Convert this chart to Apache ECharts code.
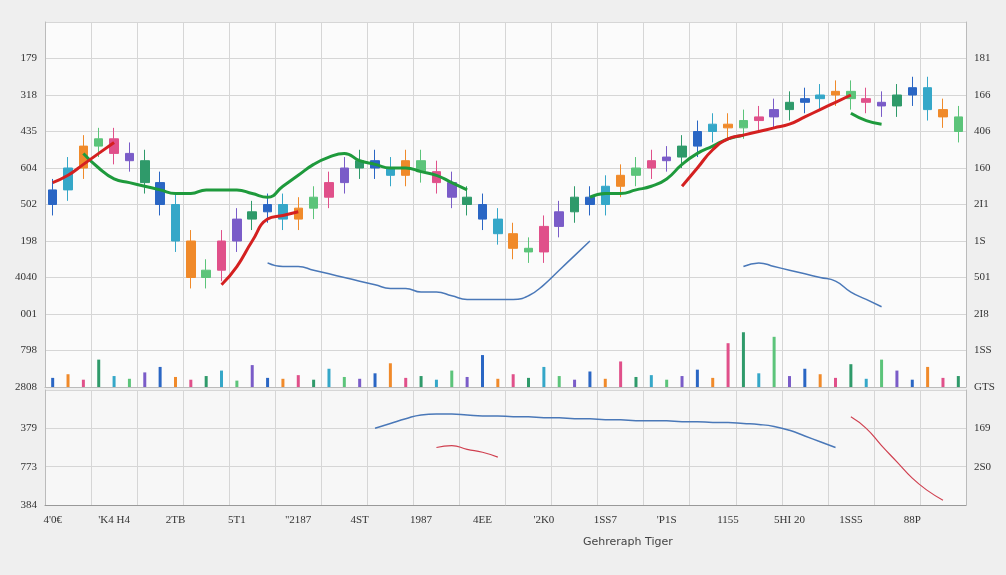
<!DOCTYPE html>
<html>
<head>
<meta charset="utf-8">
<script src="https://cdn.jsdelivr.net/npm/echarts@6/dist/echarts.min.js"></script>
<style>
  html, body { margin: 0; padding: 0; background: #efefef; }
  #main { width: 1006px; height: 575px; }
</style>
</head>
<body>
<div id="main"></div>
<script>
// chart data
const closes = [54, 60, 66, 68, 64, 62, 56, 50, 40, 30,
                32, 40, 46, 48, 50, 46, 49, 52, 56, 60,
                62, 60, 58, 62, 59, 56, 52, 50, 46, 42,
                38, 37, 44, 48, 52, 50, 55, 58, 60, 62,
                63, 66, 70, 72, 71, 73, 74, 76, 78, 79,
                80, 81, 79, 78, 77, 80, 82, 76, 74, 70];
const greenLine = ['-', '-', 64, 60, 57, 56, 55, 54, 53, 53,
                   54, 54, 54, 53, 52, 55, 58, 61, 63, 64,
                   62, 61, 60, 60, 59, 58, 56, 54, '-', '-',
                   '-', '-', '-', '-', '-', 52, 53, 53, 54, 55,
                   57, 61, 64, 66, 68, 69, '-', '-', '-', '-',
                   '-', '-', 75, 73, 72, '-', '-', '-', '-', '-'];
const redLine = [56, 58, 61, 64, 67, '-', '-', '-', '-', '-',
                 '-', 28, 33, 40, 46, 47, 48, '-', '-', '-',
                 '-', '-', '-', '-', '-', '-', '-', '-', '-', '-',
                 '-', '-', '-', '-', '-', '-', '-', '-', '-', '-',
                 '-', 55, 60, 65, 68, 69, 70, 71, 72, 74,
                 76, 78, 80, '-', '-', '-', '-', '-', '-', '-'];
const blueUpper = ['-', '-', '-', '-', '-', '-', '-', '-', '-', '-',
                   '-', '-', '-', '-', 34, 33, 33, 32, 31, 30,
                   29, 28, 27, 27, 26, 26, 25, 24, 24, 24,
                   24, 25, 28, 32, 36, 40, '-', '-', '-', '-',
                   '-', '-', '-', '-', '-', 33, 34, 33, 32, 31,
                   30, 29, 26, 24, 22, '-', '-', '-', '-', '-'];
const volumes = [10, 14, 8, 30, 12, 9, 16, 22, 11, 8,
                 12, 18, 7, 24, 10, 9, 13, 8, 20, 11,
                 9, 15, 26, 10, 12, 8, 18, 11, 35, 9,
                 14, 10, 22, 12, 8, 17, 9, 28, 11, 13,
                 8, 12, 19, 10, 48, 60, 15, 55, 12, 20,
                 14, 10, 25, 9, 30, 18, 8, 22, 10, 12];
const lowerBlue = ['-', '-', '-', '-', '-', '-', '-', '-', '-', '-',
                   '-', '-', '-', '-', '-', '-', '-', '-', '-', '-',
                   '-', 80, 85, 90, 94, 95, 95, 94, 93, 93,
                   92, 92, 91, 91, 90, 90, 89, 89, 88, 88,
                   88, 87, 87, 86, 86, 85, 84, 82, 78, 72,
                   66, 60, '-', '-', '-', '-', '-', '-', '-', '-'];
const lowerRed = ['-', '-', '-', '-', '-', '-', '-', '-', '-', '-',
                  '-', '-', '-', '-', '-', '-', '-', '-', '-', '-',
                  '-', '-', '-', '-', '-', 60, 62, 58, 55, 50,
                  '-', '-', '-', '-', '-', '-', '-', '-', '-', '-',
                  '-', '-', '-', '-', '-', '-', '-', '-', '-', '-',
                  '-', '-', 92, 80, 62, 45, 28, 15, 5, '-'];
const leftLabels = ['2808', '798', '001', '4040', '198', '502', '604', '435', '318', '179', ''];
const rightLabels = ['GTS', '1SS', '2I8', '501', '1S', '2I1', '160', '406', '166', '181', ''];
const lowerLeft = ['384', '773', '379', ''];
const lowerRight = ['', '2S0', '169', ''];
const xLabels = ['4\'0€', '\'K4 H4', '2TB', '5T1', '\'\'2187', '4ST', '1987', '4EE', '\'2K0',
                 '1SS7', '\'P1S', '1155', '5HI 20', '1SS5', '88P', '4/1/4'];
const palette = ['#2a66c4', '#35a7c8', '#f08a2a', '#5cc47a', '#e0508a', '#7a5cc8', '#2f9a6a'];

const cats = closes.map(function (c, i) { return i; });
const candles = closes.map(function (c, i) {
    const open = i === 0 ? c - 4 : closes[i - 1];
    const hi = Math.max(open, c) + 3;
    const lo = Math.min(open, c) - 3;
    return {value: [open, c, lo, hi], itemStyle: {
        color: palette[i % palette.length], color0: palette[(i + 3) % palette.length],
        borderColor: palette[i % palette.length], borderColor0: palette[(i + 3) % palette.length]}};
});

const myChart = echarts.init(document.getElementById('main'));
const grid = '#d6d6d6';
const axText = {color: '#333', fontFamily: 'Liberation Serif', fontSize: 11};
const option = {
    backgroundColor: '#efefef',
    animation: false,
    title: {text: 'Gehreraph Tiger', left: 578, top: 532,
        textStyle: {fontSize: 11, fontWeight: 'normal', color: '#444', fontFamily: 'DejaVu Sans'}},
    grid: [
        {top: 22, bottom: 188, left: 45, right: 40, show: true, backgroundColor: '#fbfbfb', borderWidth: 0},
        {top: 390, bottom: 70, left: 45, right: 40, show: true, backgroundColor: '#f7f7f7', borderWidth: 0}
    ],
    xAxis: [
        {type: 'category', data: cats, gridIndex: 0, boundaryGap: true,
            axisLine: {lineStyle: {color: '#bbb'}}, axisTick: {show: false}, axisLabel: {show: false},
            splitLine: {show: true, interval: 2, lineStyle: {color: grid}}},
        {type: 'category', data: cats, gridIndex: 1, boundaryGap: true,
            axisLine: {lineStyle: {color: '#999'}}, axisTick: {show: false},
            axisLabel: {interval: 3, margin: 10, ...axText,
                formatter: function (v, i) { return xLabels[Math.floor(i / 4)] || ''; }},
            splitLine: {show: true, interval: 2, lineStyle: {color: grid}}}
    ],
    yAxis: [
        {gridIndex: 0, min: 0, max: 100, interval: 10, axisLine: {show: true, lineStyle: {color: '#bbb'}},
            axisTick: {show: false}, splitLine: {lineStyle: {color: grid}},
            axisLabel: {...axText, formatter: function (v) { return leftLabels[v / 10]; }}},
        {gridIndex: 0, min: 0, max: 100, interval: 10, position: 'right',
            axisLine: {show: true, lineStyle: {color: '#bbb'}}, axisTick: {show: false}, splitLine: {show: false},
            axisLabel: {...axText, formatter: function (v) { return rightLabels[v / 10]; }}},
        {gridIndex: 1, min: 0, max: 120, interval: 40, axisLine: {show: true, lineStyle: {color: '#bbb'}},
            axisTick: {show: false}, splitLine: {lineStyle: {color: grid}},
            axisLabel: {...axText, formatter: function (v) { return lowerLeft[v / 40]; }}},
        {gridIndex: 1, min: 0, max: 120, interval: 40, position: 'right',
            axisLine: {show: true, lineStyle: {color: '#bbb'}}, axisTick: {show: false}, splitLine: {show: false},
            axisLabel: {...axText, formatter: function (v) { return lowerRight[v / 40]; }}},
        {gridIndex: 0, min: 0, max: 400, show: false}
    ],
    series: [
        {type: 'bar', xAxisIndex: 0, yAxisIndex: 4, data: volumes, barWidth: 3,
            itemStyle: {color: function (p) { return palette[(p.dataIndex * 2) % palette.length]; }}},
        {type: 'candlestick', xAxisIndex: 0, yAxisIndex: 0, data: candles, barWidth: 9},
        {type: 'line', xAxisIndex: 0, yAxisIndex: 0, data: greenLine, smooth: true, showSymbol: false,
            lineStyle: {color: '#1e9a3c', width: 3}},
        {type: 'line', xAxisIndex: 0, yAxisIndex: 0, data: redLine, smooth: true, showSymbol: false,
            lineStyle: {color: '#d42020', width: 3}},
        {type: 'line', xAxisIndex: 0, yAxisIndex: 0, data: blueUpper, smooth: true, showSymbol: false,
            lineStyle: {color: '#4a78b8', width: 1.5}},
        {type: 'line', xAxisIndex: 1, yAxisIndex: 2, data: lowerBlue, smooth: true, showSymbol: false,
            lineStyle: {color: '#4a78b8', width: 1.5}},
        {type: 'line', xAxisIndex: 1, yAxisIndex: 2, data: lowerRed, smooth: true, showSymbol: false,
            lineStyle: {color: '#d04050', width: 1.2}}
    ]
};
myChart.setOption(option);
</script>
</body>
</html>
